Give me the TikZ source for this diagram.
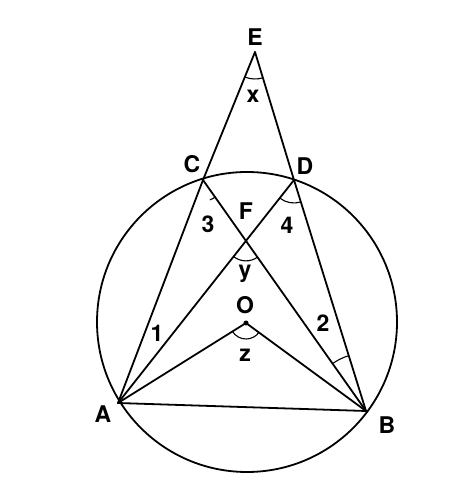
\documentclass[tikz,border=0pt]{standalone}
\usepackage{fontspec}
\setmainfont{TeX Gyre Heros}
\usetikzlibrary{calc}
\tikzset{
  geo/.style={line width=1.8pt, line join=round, line cap=round},
  arcst/.style={line width=1.1pt},
  lbl/.style={font=\fontsize{23}{27}\selectfont\bfseries, inner sep=0pt},
}
\newcommand\angarc[4]{%
  \draw[arcst] let \p1=($(#2)-(#1)$), \p2=($(#3)-(#1)$),
    \n1={atan2(\y1,\x1)}, \n2={atan2(\y2,\x2)} in
    ($(#1)+(\n1:#4)$) arc[start angle=\n1, end angle=\n2, radius=#4];}
\begin{document}
\begin{tikzpicture}[x=1pt,y=1pt]
\useasboundingbox (0,0) rectangle (474,494);
\coordinate (Oc) at (247,172);
\coordinate (E) at (255,442);
\coordinate (C) at (203,314);
\coordinate (D) at (294,314);
\coordinate (A) at (118,91);
\coordinate (B) at (366,83);
\coordinate (O) at (246,171);
\path (intersection of A--D and C--B) coordinate (F);
% circle
\draw[geo] (Oc) circle[radius=150pt];
% lines
\draw[geo] (E) -- (C) -- (A);
\draw[geo] (E) -- (D) -- (B);
\draw[geo] (A) -- (B);
\draw[geo] (A) -- (D);
\draw[geo] (C) -- (B);
\draw[geo] (A) -- (O) -- (B);
\fill (O) circle[radius=2.5pt];
% angle arcs
\angarc{E}{A}{B}{27pt}
\angarc{F}{A}{B}{20pt}
\angarc{O}{A}{B}{16pt}
\angarc{D}{A}{B}{23pt}
\angarc{B}{D}{C}{58pt}
\draw[arcst] let \p1=($(B)-(C)$), \n1={atan2(\y1,\x1)} in
  ($(C)+(\n1:21pt)$) arc[start angle=\n1, end angle=\n1-16, radius=21pt];
% labels
\node[lbl] (lE) at (255,457) {E};
\node[lbl] (lx) at (253,398) {x};
\node[lbl] (lC) at (192,330) {C};
\node[lbl] (lD) at (305,328) {D};
\node[lbl] (l3) at (208,270) {3};
\node[lbl] (lF) at (246,283) {F};
\node[lbl] (l4) at (287,269) {4};
\node[lbl] (ly) at (245,220) {y};
\node[lbl] (lO) at (245,189) {O};
\node[lbl] (l1) at (157,161) {1};
\node[lbl] (l2) at (323,171) {2};
\node[lbl] (lz) at (245,139) {z};
\node[lbl] (lA) at (103,80) {A};
\node[lbl] (lB) at (387,69) {B};
\end{tikzpicture}
\end{document}
